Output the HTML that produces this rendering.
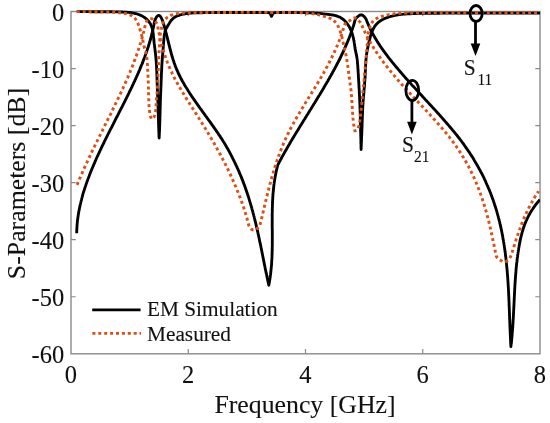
<!DOCTYPE html>
<html><head><meta charset="utf-8"><title>S-Parameters</title>
<style>html,body{margin:0;padding:0;background:#fff;overflow:hidden;}svg{display:block;}text{font-family:"Liberation Serif","Times New Roman",serif;fill:#111;stroke:#111;stroke-width:0.1px;}</style></head><body>
<svg width="550" height="423" viewBox="0 0 550 423">
<rect width="550" height="423" fill="#fff"/>
<defs><clipPath id="c"><rect x="71.0" y="0" width="469.0" height="355.8"/></clipPath></defs>
<path d="M188.25 353.80V349.10 M188.25 11.50V16.20 M305.50 353.80V349.10 M305.50 11.50V16.20 M422.75 353.80V349.10 M422.75 11.50V16.20 M71.00 68.55H75.70 M540.00 68.55H535.30 M71.00 125.60H75.70 M540.00 125.60H535.30 M71.00 182.65H75.70 M540.00 182.65H535.30 M71.00 239.70H75.70 M540.00 239.70H535.30 M71.00 296.75H75.70 M540.00 296.75H535.30" stroke="#8a8a8a" stroke-width="1.2" fill="none"/>
<rect x="71.00" y="11.50" width="469.00" height="342.30" stroke="#8a8a8a" stroke-width="1.4" fill="none"/>
<g clip-path="url(#c)" fill="none" stroke-linejoin="round">
<path d="M76.7 233.3L76.7 232.3L76.7 231.3L76.8 230.3L76.8 229.3L76.9 228.3L76.9 227.3L77.0 226.3L77.1 225.3L77.1 224.3L77.2 223.3L77.3 222.3L77.4 221.3L77.5 220.3L77.7 219.3L77.8 218.3L77.9 217.3L78.1 216.3L78.2 215.3L78.4 214.3L78.5 213.3L78.7 212.3L78.9 211.3L79.1 210.3L79.3 209.3L79.5 208.3L79.7 207.3L79.9 206.3L80.1 205.3L80.3 204.3L80.6 203.3L80.8 202.3L81.1 201.3L81.3 200.3L81.6 199.3L81.8 198.3L82.1 197.3L82.4 196.2L82.7 195.2L82.9 194.2L83.2 193.2L83.5 192.2L83.8 191.2L84.2 190.2L84.5 189.2L84.8 188.2L85.1 187.2L85.5 186.2L85.8 185.2L86.1 184.2L86.5 183.2L86.8 182.2L87.2 181.2L87.6 180.2L87.9 179.2L88.3 178.2L88.7 177.2L89.1 176.2L89.4 175.2L89.8 174.2L90.2 173.2L90.6 172.2L91.0 171.2L91.4 170.2L91.8 169.2L92.3 168.2L92.7 167.2L93.1 166.2L93.5 165.2L94.0 164.2L94.4 163.2L94.8 162.2L95.3 161.2L95.7 160.2L96.1 159.2L96.6 158.2L97.0 157.2L97.5 156.2L98.0 155.2L98.4 154.2L98.9 153.2L99.4 152.2L99.8 151.2L100.3 150.2L100.8 149.2L101.2 148.2L101.7 147.2L102.2 146.2L102.7 145.2L103.2 144.2L103.7 143.2L104.1 142.2L104.6 141.2L105.1 140.2L105.6 139.2L106.1 138.2L106.6 137.2L107.1 136.2L107.6 135.2L108.1 134.2L108.6 133.2L109.1 132.2L109.6 131.2L110.1 130.2L110.6 129.2L111.1 128.2L111.7 127.2L112.2 126.1L112.7 125.1L113.2 124.1L113.7 123.1L114.2 122.1L114.7 121.1L115.2 120.1L115.7 119.1L116.2 118.1L116.8 117.1L117.3 116.1L117.8 115.1L118.3 114.1L118.8 113.1L119.3 112.1L119.8 111.1L120.3 110.1L120.8 109.1L121.4 108.1L121.9 107.1L122.4 106.1L122.9 105.1L123.4 104.1L123.9 103.1L124.4 102.1L124.9 101.1L125.4 100.1L125.9 99.1L126.4 98.1L126.9 97.1L127.4 96.1L127.9 95.1L128.4 94.1L128.9 93.1L129.3 92.1L129.8 91.1L130.3 90.1L130.8 89.1L131.3 88.1L131.8 87.1L132.2 86.1L132.7 85.1L133.2 84.1L133.6 83.1L134.1 82.1L134.6 81.1L135.0 80.1L135.5 79.1L135.9 78.1L136.4 77.1L136.8 76.1L137.3 75.1L137.7 74.1L138.2 73.1L138.6 72.1L139.0 71.1L139.5 70.1L139.9 69.1L140.3 68.1L140.7 67.1L141.1 66.1L141.5 65.1L142.0 64.1L142.4 63.1L142.8 62.1L143.1 61.1L143.5 60.1L143.9 59.1L144.3 58.1L144.7 57.0L145.0 56.0L145.4 55.0L145.8 54.0L146.1 53.0L146.5 52.0L146.8 51.0L147.2 50.0L147.5 49.0L147.8 48.0L148.2 47.0L148.5 46.0L148.8 45.0L149.1 44.0L149.4 43.0L149.7 42.0L150.0 41.0L150.3 40.0L150.6 39.0L150.8 38.0L151.1 37.0L151.4 36.0L151.6 35.0L151.9 34.0L152.1 33.0L152.4 32.0L152.6 31.0L152.8 30.0L153.0 29.0L153.3 28.0L153.5 27.0L153.7 26.0L153.9 25.0L154.0 24.0L154.2 23.0L154.4 22.1L154.6 21.0L154.9 20.2L155.3 19.2L155.9 18.1L156.4 17.1L156.9 16.5L157.9 15.7L158.7 15.5L159.5 15.7L160.5 16.5L160.9 17.2L161.4 18.1L161.9 19.2L162.4 20.2L162.7 21.0L163.0 22.1L163.3 23.0L163.6 24.0L163.9 25.0L164.2 26.0L164.5 27.0L164.8 28.0L165.0 29.0L165.3 30.0L165.6 31.0L165.8 32.0L166.1 33.0L166.3 34.0L166.6 35.0L166.8 36.0L167.1 37.0L167.3 38.0L167.6 39.0L167.8 40.0L168.1 41.0L168.3 42.0L168.6 43.0L168.8 44.0L169.1 45.0L169.3 46.0L169.6 47.0L169.8 48.0L170.1 49.0L170.3 50.0L170.6 51.0L170.9 52.0L171.1 53.0L171.4 54.0L171.7 55.0L172.0 56.0L172.3 57.0L172.6 58.0L172.9 59.0L173.2 60.0L173.6 61.0L173.9 62.0L174.2 63.0L174.6 64.0L175.0 65.0L175.3 66.0L175.7 67.0L176.1 68.0L176.5 69.0L176.9 70.0L177.4 71.0L177.8 72.0L178.3 73.0L178.7 74.0L179.2 75.0L179.7 76.0L180.2 77.0L180.7 78.0L181.3 79.0L181.8 80.0L182.3 81.0L182.9 82.0L183.5 83.0L184.1 84.0L184.6 85.0L185.2 86.0L185.8 87.0L186.5 88.0L187.1 89.0L187.7 90.0L188.3 91.0L189.0 92.1L189.6 93.1L190.3 94.1L191.0 95.1L191.6 96.1L192.3 97.1L193.0 98.1L193.7 99.1L194.4 100.1L195.1 101.1L195.8 102.1L196.5 103.1L197.2 104.1L197.9 105.1L198.6 106.1L199.3 107.1L200.0 108.1L200.8 109.1L201.5 110.1L202.2 111.1L202.9 112.1L203.7 113.1L204.4 114.1L205.1 115.1L205.8 116.1L206.6 117.1L207.3 118.1L208.0 119.1L208.7 120.1L209.5 121.1L210.2 122.1L210.9 123.1L211.6 124.1L212.3 125.1L213.0 126.1L213.7 127.1L214.4 128.1L215.1 129.1L215.8 130.1L216.5 131.1L217.2 132.1L217.9 133.1L218.5 134.1L219.2 135.1L219.9 136.1L220.5 137.1L221.2 138.1L221.8 139.1L222.4 140.1L223.0 141.1L223.7 142.1L224.3 143.1L224.9 144.1L225.5 145.1L226.1 146.1L226.6 147.1L227.2 148.1L227.8 149.1L228.4 150.1L228.9 151.1L229.5 152.1L230.0 153.1L230.5 154.1L231.1 155.1L231.6 156.1L232.1 157.1L232.6 158.1L233.1 159.1L233.6 160.1L234.1 161.1L234.6 162.1L235.1 163.1L235.6 164.1L236.0 165.1L236.5 166.1L237.0 167.1L237.4 168.1L237.9 169.1L238.3 170.1L238.8 171.1L239.2 172.1L239.6 173.1L240.0 174.1L240.5 175.1L240.9 176.1L241.3 177.1L241.7 178.1L242.1 179.1L242.5 180.1L242.9 181.1L243.2 182.1L243.6 183.1L244.0 184.1L244.4 185.1L244.7 186.1L245.1 187.1L245.4 188.1L245.8 189.1L246.1 190.1L246.5 191.1L246.8 192.1L247.2 193.1L247.5 194.1L247.8 195.1L248.2 196.1L248.5 197.1L248.8 198.1L249.1 199.1L249.4 200.1L249.7 201.1L250.0 202.1L250.3 203.1L250.6 204.1L250.9 205.1L251.2 206.1L251.5 207.1L251.8 208.1L252.0 209.1L252.3 210.1L252.6 211.1L252.9 212.1L253.1 213.1L253.4 214.1L253.7 215.1L253.9 216.1L254.2 217.1L254.4 218.1L254.7 219.2L254.9 220.2L255.2 221.2L255.4 222.2L255.7 223.2L255.9 224.2L256.2 225.2L256.4 226.2L256.6 227.2L256.9 228.2L257.1 229.2L257.3 230.2L257.5 231.2L257.8 232.2L258.0 233.2L258.2 234.2L258.4 235.2L258.7 236.2L258.9 237.2L259.1 238.2L259.3 239.2L259.5 240.2L259.7 241.2L259.9 242.2L260.1 243.2L260.4 244.2L260.6 245.2L260.8 246.2L261.0 247.2L261.2 248.2L261.4 249.2L261.6 250.2L261.8 251.2L262.0 252.2L262.2 253.2L262.4 254.2L262.6 255.2L262.8 256.2L263.0 257.2L263.2 258.2L263.4 259.2L263.6 260.2L263.8 261.2L264.0 262.2L264.2 263.2L264.4 264.2L264.6 265.2L264.8 266.2L265.0 267.2L265.2 268.2L265.4 269.2L265.6 270.2L265.8 271.2L266.0 272.2L266.2 273.2L266.5 274.2L266.7 275.2L266.9 276.2L267.1 277.2L267.3 278.2L267.5 279.2L267.7 280.2L267.9 281.2L268.1 282.2L268.4 283.2L268.6 284.2L268.8 285.2L269.0 284.2L269.2 283.2L269.4 282.2L269.5 281.2L269.7 280.2L269.9 279.2L270.0 278.2L270.2 277.2L270.3 276.2L270.4 275.2L270.6 274.2L270.7 273.2L270.8 272.2L270.9 271.2L271.0 270.2L271.1 269.2L271.2 268.2L271.3 267.2L271.4 266.2L271.5 265.2L271.6 264.2L271.6 263.2L271.7 262.2L271.7 261.2L271.8 260.2L271.9 259.2L271.9 258.2L272.0 257.2L272.0 256.2L272.0 255.1L272.1 254.1L272.1 253.1L272.1 252.1L272.2 251.1L272.2 250.1L272.2 249.1L272.2 248.1L272.2 247.1L272.3 246.1L272.3 245.1L272.3 244.1L272.3 243.1L272.3 242.1L272.3 241.1L272.3 240.1L272.3 239.1L272.3 238.1L272.3 237.1L272.3 236.1L272.3 235.1L272.3 234.1L272.3 233.1L272.3 232.1L272.3 231.1L272.3 230.1L272.2 229.1L272.2 228.1L272.2 227.1L272.2 226.1L272.2 225.1L272.2 224.1L272.2 223.1L272.2 222.1L272.2 221.1L272.2 220.1L272.2 219.1L272.2 218.1L272.2 217.1L272.2 216.1L272.2 215.1L272.2 214.1L272.2 213.1L272.3 212.1L272.3 211.1L272.3 210.1L272.3 209.1L272.3 208.1L272.4 207.1L272.4 206.1L272.4 205.1L272.5 204.1L272.5 203.1L272.5 202.1L272.6 201.1L272.6 200.1L272.7 199.1L272.7 198.1L272.8 197.1L272.9 196.0L272.9 195.0L273.0 194.0L273.1 193.0L273.2 192.0L273.3 191.0L273.4 190.0L273.5 189.0L273.6 188.0L273.7 187.0L273.8 186.0L273.9 185.0L274.1 184.0L274.2 183.0L274.3 182.0L274.5 181.0L274.6 180.0L274.8 179.0L275.0 178.0L275.1 177.0L275.3 176.0L275.5 175.0L275.7 174.0L275.9 173.0L276.1 172.0L276.3 171.0L276.6 170.0L276.8 169.0L277.0 168.0L277.3 167.0L277.5 166.0L277.8 165.1L278.3 164.0L278.8 163.0L279.3 162.0L279.9 161.0L280.4 160.0L281.0 159.0L281.5 158.0L282.0 157.0L282.6 156.0L283.2 155.0L283.7 154.0L284.3 153.0L284.8 152.0L285.4 151.0L286.0 150.0L286.6 149.0L287.1 148.0L287.7 147.0L288.3 146.0L288.9 145.0L289.5 144.0L290.0 143.0L290.6 142.0L291.2 141.0L291.8 140.0L292.4 139.0L293.0 138.0L293.6 137.0L294.2 136.0L294.8 135.0L295.4 134.0L296.0 133.0L296.6 132.0L297.3 131.0L297.9 130.0L298.5 129.0L299.1 128.0L299.7 127.0L300.3 126.0L300.9 125.0L301.6 124.0L302.2 123.0L302.8 122.0L303.4 121.0L304.0 120.0L304.7 119.0L305.3 118.0L305.9 117.0L306.5 116.0L307.1 115.0L307.8 114.0L308.4 113.0L309.0 112.0L309.6 111.0L310.2 110.0L310.9 109.0L311.5 108.0L312.1 107.0L312.7 106.0L313.3 105.0L313.9 104.0L314.6 103.0L315.2 102.0L315.8 101.0L316.4 100.0L317.0 99.0L317.6 98.0L318.2 97.0L318.8 96.0L319.5 95.0L320.1 94.0L320.7 93.0L321.3 92.0L321.9 91.0L322.5 90.0L323.1 89.0L323.7 88.0L324.2 87.0L324.8 86.0L325.4 85.0L326.0 84.0L326.6 83.0L327.2 82.0L327.8 81.0L328.3 80.0L328.9 79.0L329.5 78.0L330.0 77.0L330.6 76.0L331.2 75.0L331.7 74.0L332.3 73.0L332.8 72.0L333.4 71.0L333.9 70.0L334.5 69.0L335.0 68.0L335.5 67.0L336.1 66.0L336.6 65.0L337.1 64.0L337.6 63.0L338.2 62.0L338.7 61.0L339.2 60.0L339.7 59.0L340.2 58.0L340.7 57.0L341.2 56.0L341.6 55.0L342.1 54.0L342.6 53.0L343.1 52.0L343.5 51.0L344.0 50.0L344.4 49.0L344.9 48.0L345.3 47.0L345.8 46.0L346.2 45.0L346.6 44.0L347.1 43.0L347.5 42.0L347.9 41.0L348.3 40.0L348.7 39.0L349.1 38.0L349.5 37.0L349.9 36.0L350.3 35.0L350.6 34.0L351.0 33.0L351.4 32.0L351.7 31.0L352.0 30.0L352.4 29.0L352.7 28.0L353.0 27.0L353.4 26.0L353.7 25.0L354.0 24.0L354.3 23.0L354.6 22.0L354.8 21.0L355.1 20.0L355.5 19.1L356.0 18.3L356.8 17.5L357.8 16.6L358.7 15.9L359.4 15.4L360.6 14.9L361.6 14.9L362.8 15.4L363.5 15.9L364.3 16.8L365.2 17.8L365.8 18.7L366.3 19.6L366.6 20.5L367.0 21.5L367.4 22.5L367.8 23.5L368.2 24.5L368.7 25.5L369.1 26.5L369.6 27.5L370.0 28.5L370.5 29.5L371.0 30.5L371.5 31.6L372.1 32.6L372.6 33.6L373.2 34.6L373.7 35.6L374.3 36.6L374.9 37.6L375.5 38.6L376.1 39.6L376.7 40.6L377.3 41.6L378.0 42.6L378.6 43.6L379.3 44.6L379.9 45.6L380.6 46.6L381.3 47.6L382.0 48.6L382.7 49.6L383.4 50.6L384.2 51.7L384.9 52.7L385.6 53.6L386.2 54.4L386.8 55.2L387.4 56.0L388.0 56.8L388.6 57.6L389.2 58.4L389.9 59.2L390.5 60.0L391.1 60.8L391.8 61.6L392.4 62.4L393.1 63.2L393.7 64.0L394.4 64.8L395.1 65.6L395.7 66.4L396.4 67.2L397.1 68.0L397.8 68.8L398.4 69.6L399.1 70.4L399.8 71.2L400.5 72.0L401.2 72.8L401.9 73.6L402.6 74.5L403.3 75.3L404.0 76.1L404.7 76.9L405.4 77.7L406.1 78.5L406.8 79.3L407.6 80.1L408.3 80.9L409.0 81.7L409.7 82.5L410.5 83.3L411.2 84.1L411.9 84.9L412.6 85.7L413.4 86.5L414.1 87.3L414.9 88.1L415.6 88.9L416.3 89.7L417.1 90.5L417.8 91.3L418.5 92.1L419.3 92.9L420.0 93.7L420.8 94.5L421.5 95.3L422.3 96.2L423.0 97.0L423.7 97.8L424.5 98.6L425.2 99.4L426.0 100.2L426.7 101.0L427.4 101.8L428.2 102.6L428.9 103.4L429.7 104.2L430.4 105.0L431.2 105.8L431.9 106.6L432.6 107.4L433.4 108.2L434.1 109.0L434.8 109.8L435.6 110.6L436.3 111.4L437.0 112.2L437.7 113.0L438.5 113.8L439.2 114.6L439.9 115.4L440.6 116.2L441.4 117.1L442.1 117.9L442.8 118.7L443.5 119.5L444.2 120.3L444.9 121.1L445.6 121.9L446.3 122.7L447.0 123.5L447.7 124.3L448.4 125.1L449.1 125.9L449.7 126.7L450.4 127.5L451.1 128.3L451.8 129.1L452.4 129.9L453.1 130.7L453.8 131.5L454.4 132.3L455.1 133.1L455.7 133.9L456.4 134.7L457.0 135.5L457.7 136.3L458.3 137.1L458.9 137.9L459.5 138.8L460.2 139.6L460.8 140.4L461.4 141.2L462.0 142.0L462.5 142.7L463.1 143.5L463.9 144.5L464.6 145.6L465.3 146.6L466.0 147.6L466.7 148.6L467.4 149.6L468.1 150.6L468.8 151.6L469.5 152.6L470.1 153.6L470.8 154.6L471.4 155.6L472.1 156.6L472.7 157.6L473.3 158.6L473.9 159.6L474.5 160.7L475.1 161.7L475.7 162.7L476.3 163.7L476.9 164.7L477.5 165.7L478.0 166.7L478.6 167.7L479.1 168.7L479.7 169.7L480.2 170.7L480.7 171.7L481.3 172.7L481.8 173.7L482.3 174.7L482.8 175.7L483.3 176.7L483.8 177.7L484.3 178.7L484.7 179.7L485.2 180.7L485.7 181.7L486.1 182.8L486.6 183.8L487.0 184.8L487.5 185.8L487.9 186.8L488.3 187.8L488.8 188.8L489.2 189.8L489.6 190.8L490.0 191.8L490.4 192.8L490.8 193.8L491.2 194.8L491.5 195.8L491.9 196.8L492.3 197.8L492.6 198.8L493.0 199.8L493.4 200.8L493.7 201.8L494.0 202.8L494.4 203.8L494.7 204.9L495.0 205.9L495.4 206.9L495.7 207.9L496.0 208.9L496.3 209.9L496.6 210.9L496.9 211.9L497.2 212.9L497.4 213.9L497.7 214.9L498.0 215.9L498.3 216.9L498.5 217.9L498.8 218.9L499.1 219.9L499.3 220.9L499.6 221.9L499.8 222.9L500.0 223.9L500.3 224.9L500.5 225.9L500.7 227.0L501.0 228.0L501.2 229.0L501.4 230.0L501.6 231.0L501.8 232.0L502.0 233.0L502.2 234.0L502.4 235.0L502.6 236.0L502.8 237.0L502.9 238.0L503.1 239.0L503.3 240.0L503.5 241.0L503.6 242.0L503.8 243.0L504.0 244.0L504.1 245.0L504.3 246.0L504.4 247.0L504.6 248.0L504.7 249.1L504.9 250.1L505.0 251.1L505.1 252.1L505.3 253.1L505.4 254.1L505.5 255.1L505.6 256.1L505.8 257.1L505.9 258.1L506.0 259.1L506.1 260.1L506.2 261.1L506.3 262.1L506.4 263.1L506.5 264.1L506.6 265.1L506.7 266.1L506.8 267.1L506.9 268.1L507.0 269.1L507.1 270.2L507.2 271.2L507.3 272.2L507.3 273.2L507.4 274.2L507.5 275.2L507.6 276.2L507.7 277.2L507.7 278.2L507.8 279.2L507.9 280.2L507.9 281.2L508.0 282.2L508.1 283.2L508.1 284.2L508.2 285.2L508.2 286.2L508.3 287.2L508.4 288.2L508.4 289.2L508.5 290.2L508.5 291.2L508.6 292.3L508.6 293.3L508.7 294.3L508.7 295.3L508.8 296.3L508.8 297.3L508.9 298.3L508.9 299.3L508.9 300.3L509.0 301.3L509.0 302.3L509.1 303.3L509.1 304.3L509.1 305.3L509.2 306.3L509.2 307.3L509.3 308.3L509.3 309.3L509.3 310.3L509.4 311.3L509.4 312.3L509.5 313.3L509.5 314.4L509.5 315.4L509.6 316.4L509.6 317.4L509.6 318.4L509.7 319.4L509.7 320.4L509.8 321.4L509.8 322.4L509.8 323.4L509.9 324.4L509.9 325.4L509.9 326.4L510.0 327.4L510.0 328.4L510.1 329.4L510.1 330.4L510.2 331.4L510.2 332.4L510.2 333.4L510.3 334.4L510.3 335.4L510.4 336.5L510.4 337.5L510.5 338.5L510.5 339.5L510.6 340.5L510.6 341.5L510.7 342.5L510.7 343.5L510.8 344.5L510.8 345.5L510.9 346.5L511.0 345.5L511.1 344.5L511.3 343.5L511.4 342.5L511.5 341.5L511.6 340.5L511.7 339.5L511.8 338.5L511.9 337.5L512.0 336.4L512.1 335.4L512.1 334.4L512.2 333.4L512.3 332.4L512.4 331.4L512.5 330.4L512.5 329.4L512.6 328.4L512.7 327.4L512.8 326.4L512.8 325.4L512.9 324.4L513.0 323.4L513.0 322.4L513.1 321.4L513.1 320.4L513.2 319.4L513.3 318.3L513.3 317.3L513.4 316.3L513.4 315.3L513.5 314.3L513.5 313.3L513.6 312.3L513.6 311.3L513.7 310.3L513.7 309.3L513.8 308.3L513.8 307.3L513.9 306.3L513.9 305.3L514.0 304.3L514.0 303.3L514.1 302.3L514.1 301.3L514.2 300.2L514.2 299.2L514.3 298.2L514.3 297.2L514.4 296.2L514.4 295.2L514.5 294.2L514.5 293.2L514.6 292.2L514.6 291.2L514.7 290.2L514.7 289.2L514.8 288.2L514.8 287.2L514.9 286.2L514.9 285.2L515.0 284.2L515.1 283.2L515.1 282.1L515.2 281.1L515.3 280.1L515.3 279.1L515.4 278.1L515.5 277.1L515.6 276.1L515.6 275.1L515.7 274.1L515.8 273.1L515.9 272.1L516.0 271.1L516.0 270.1L516.1 269.1L516.2 268.1L516.3 267.1L516.4 266.1L516.5 265.1L516.6 264.1L516.7 263.0L516.9 262.0L517.0 261.0L517.1 260.0L517.2 259.0L517.3 258.0L517.5 257.0L517.6 256.0L517.7 255.0L517.9 254.0L518.0 253.0L518.2 252.0L518.3 251.0L518.5 250.0L518.6 249.0L518.8 248.0L519.0 247.0L519.1 246.0L519.3 244.9L519.5 243.9L519.7 242.9L519.9 241.9L520.1 240.9L520.3 239.9L520.5 238.9L520.7 237.9L521.0 236.9L521.2 235.9L521.5 234.9L521.7 233.9L522.0 232.9L522.3 231.9L522.6 230.9L522.9 229.9L523.2 228.9L523.5 227.9L523.9 226.9L524.2 225.8L524.6 224.8L525.0 223.8L525.4 222.8L525.8 221.8L526.2 220.8L526.7 219.8L527.1 218.8L527.6 217.8L528.1 216.8L528.6 215.8L529.2 214.8L529.7 213.8L530.3 212.8L530.9 211.8L531.5 210.8L532.2 209.8L532.9 208.8L533.5 207.8L534.3 206.7L535.0 205.7L535.6 204.9L536.2 204.1L536.8 203.3L537.5 202.5L538.2 201.7L538.8 200.9L539.6 200.1L539.9 199.7" stroke="#000" stroke-width="2.85"/>
<path d="M76.8 11.6L77.8 11.6L78.8 11.6L79.9 11.6L80.9 11.6L81.9 11.6L83.0 11.6L84.0 11.6L85.1 11.6L86.1 11.6L87.2 11.6L88.2 11.6L89.3 11.7L90.3 11.7L91.3 11.7L92.3 11.7L93.4 11.7L94.4 11.7L95.3 11.7L96.3 11.7L97.2 11.7L98.1 11.7L99.0 11.7L99.9 11.7L101.0 11.7L102.1 11.7L103.2 11.7L104.3 11.7L105.3 11.7L106.3 11.7L107.2 11.7L108.2 11.7L109.2 11.7L110.1 11.7L111.1 11.7L112.0 11.7L113.0 11.8L114.0 11.8L114.9 11.8L116.0 11.8L117.0 11.9L118.1 11.9L119.2 11.9L120.3 11.9L121.4 12.0L122.5 12.0L123.6 12.1L124.6 12.1L125.7 12.2L126.7 12.2L127.6 12.3L128.4 12.4L129.2 12.4L130.0 12.5L131.2 12.7L132.4 12.9L133.4 13.1L134.4 13.3L135.2 13.5L136.1 13.7L137.2 14.0L138.2 14.3L139.2 14.7L140.2 15.1L141.1 15.5L142.1 16.0L143.1 16.6L144.1 17.2L144.9 17.8L145.7 18.4L146.5 19.1L147.2 19.7L148.0 20.6L148.8 21.5L149.4 22.4L150.0 23.3L150.5 24.1L150.9 25.0L151.4 26.1L151.8 27.2L152.1 28.2L152.4 29.2L152.7 30.3L152.9 31.5L153.0 32.5L153.1 33.4L153.3 34.3L153.4 35.2L153.4 36.3L153.5 37.3L153.7 38.4L153.8 39.5L153.9 40.5L154.0 41.5L154.1 42.5L154.2 43.5L154.4 44.5L154.5 45.5L154.6 46.6L154.7 47.6L154.9 48.7L155.0 49.7L155.1 50.7L155.2 51.8L155.4 52.8L155.5 53.8L155.6 54.9L155.7 55.9L155.8 57.0L155.9 58.0L156.0 59.1L156.1 60.1L156.2 61.2L156.3 62.1L156.3 63.1L156.4 64.1L156.5 65.1L156.5 66.2L156.6 67.3L156.6 68.4L156.7 69.5L156.7 70.5L156.8 71.4L156.8 72.3L156.8 73.3L156.9 74.3L156.9 75.3L156.9 76.3L157.0 77.3L157.0 78.3L157.0 79.4L157.1 80.4L157.1 81.5L157.1 82.5L157.2 83.5L157.2 84.5L157.2 85.5L157.3 86.5L157.3 87.5L157.3 88.5L157.4 89.5L157.4 90.5L157.5 91.5L157.5 92.5L157.5 93.5L157.6 94.5L157.6 95.5L157.7 96.5L157.7 97.5L157.7 98.5L157.8 99.5L157.8 100.5L157.9 101.5L157.9 102.5L157.9 103.5L158.0 104.5L158.0 105.5L158.0 106.6L158.1 107.6L158.1 108.6L158.1 109.6L158.2 110.6L158.2 111.6L158.2 112.6L158.3 113.5L158.3 114.5L158.3 115.5L158.3 116.5L158.4 117.6L158.4 118.6L158.4 119.7L158.5 120.7L158.5 121.7L158.5 122.7L158.6 123.7L158.6 124.7L158.6 125.6L158.7 126.6L158.7 127.5L158.7 128.5L158.8 129.6L158.8 130.6L158.8 131.6L158.9 132.6L158.9 133.6L159.0 134.6L159.0 135.5L159.0 136.5L159.1 137.5L159.1 138.0L159.2 137.0L159.2 136.0L159.3 135.0L159.3 134.1L159.4 133.1L159.4 132.1L159.5 131.1L159.5 130.1L159.6 129.0L159.6 128.0L159.6 127.0L159.7 126.1L159.7 125.1L159.7 124.2L159.8 123.2L159.8 122.2L159.8 121.2L159.9 120.2L159.9 119.1L159.9 118.1L159.9 117.1L160.0 116.0L160.0 115.0L160.0 114.0L160.1 113.0L160.1 112.1L160.1 111.1L160.1 110.1L160.2 109.1L160.2 108.1L160.2 107.1L160.2 106.1L160.3 105.0L160.3 104.0L160.3 103.0L160.3 102.0L160.4 101.0L160.4 100.0L160.4 99.0L160.5 98.0L160.5 97.0L160.5 96.0L160.6 95.0L160.6 94.0L160.7 93.0L160.7 92.0L160.8 91.0L160.8 90.0L160.8 89.0L160.9 88.0L160.9 87.0L161.0 86.0L161.0 85.0L161.0 84.0L161.1 83.0L161.1 82.0L161.2 80.9L161.2 79.9L161.2 78.8L161.3 77.8L161.3 76.8L161.4 75.7L161.4 74.7L161.4 73.7L161.5 72.8L161.5 71.9L161.6 71.0L161.6 70.1L161.7 69.0L161.7 67.9L161.8 66.8L161.8 65.8L161.9 64.8L161.9 63.9L162.0 62.9L162.1 62.0L162.1 61.0L162.2 60.0L162.3 59.0L162.4 58.0L162.4 57.0L162.5 56.0L162.6 55.0L162.7 54.0L162.8 53.0L162.8 52.0L162.9 51.0L163.0 50.0L163.1 49.0L163.2 48.0L163.2 46.9L163.3 45.8L163.4 44.8L163.5 43.7L163.6 42.7L163.7 41.8L163.7 40.9L163.8 40.0L163.9 38.9L164.0 37.9L164.1 36.9L164.2 36.0L164.3 35.1L164.4 34.1L164.7 33.0L164.9 31.9L165.2 30.9L165.6 29.8L166.0 28.9L166.5 27.9L167.1 27.0L167.6 26.0L168.2 25.1L168.7 24.2L169.3 23.3L169.8 22.4L170.3 21.6L170.9 20.8L171.6 20.0L172.4 19.1L173.2 18.4L174.1 17.7L175.1 17.0L176.0 16.5L177.1 16.0L178.0 15.6L179.0 15.3L180.1 14.9L181.1 14.7L182.2 14.4L183.1 14.2L184.1 14.0L185.1 13.9L186.1 13.7L187.2 13.5L188.3 13.4L189.5 13.2L190.5 13.1L191.3 13.0L192.0 13.0L192.9 12.9L193.7 12.9L194.7 12.8L195.8 12.8L197.0 12.8L198.3 12.7L199.6 12.7L200.6 12.7L201.3 12.7L202.0 12.7L202.7 12.7L203.5 12.6L204.4 12.6L205.3 12.6L206.2 12.6L207.2 12.6L208.1 12.6L209.1 12.6L210.1 12.6L211.2 12.6L212.2 12.6L213.3 12.5L214.3 12.5L215.4 12.5L216.5 12.5L217.6 12.5L218.6 12.5L219.7 12.5L220.8 12.5L221.9 12.5L223.0 12.5L224.1 12.5L225.2 12.5L226.3 12.5L227.4 12.5L228.5 12.5L229.5 12.5L230.5 12.5L231.4 12.5L232.4 12.5L233.5 12.5L234.5 12.5L235.6 12.5L236.7 12.5L237.9 12.5L239.0 12.5L240.2 12.5L241.3 12.5L242.5 12.5L243.7 12.5L244.9 12.5L246.1 12.5L247.2 12.5L248.4 12.5L249.6 12.5L250.7 12.5L251.8 12.5L253.0 12.5L254.1 12.5L255.1 12.5L256.2 12.5L257.2 12.5L258.2 12.5L259.2 12.5L260.2 12.5L261.1 12.5L261.9 12.5L262.7 12.5L263.3 12.5L263.9 12.6L264.5 12.6L265.0 12.6L265.5 12.6L266.5 12.6L268.0 12.7L268.8 12.8L269.8 12.9L270.3 13.9L270.8 14.9L271.3 15.9L271.5 16.4L272.0 15.4L272.5 14.4L273.0 13.4L273.2 12.9L274.2 12.8L275.1 12.7L276.4 12.6L277.5 12.6L278.1 12.6L278.7 12.6L279.4 12.6L280.2 12.5L281.1 12.5L282.1 12.5L283.1 12.5L284.2 12.5L285.4 12.5L286.5 12.5L287.7 12.5L288.8 12.5L290.0 12.5L291.2 12.5L292.4 12.5L293.5 12.5L294.6 12.5L295.7 12.6L296.8 12.6L297.7 12.6L298.6 12.6L299.5 12.6L300.5 12.6L301.7 12.6L302.8 12.6L303.9 12.6L305.0 12.7L306.0 12.7L307.0 12.7L308.0 12.7L308.9 12.8L309.8 12.8L310.7 12.8L311.7 12.9L312.6 12.9L313.7 13.0L314.9 13.1L316.0 13.2L317.1 13.2L318.1 13.3L319.1 13.4L320.1 13.5L321.1 13.6L322.1 13.7L323.1 13.8L324.3 14.0L325.4 14.1L326.5 14.2L327.5 14.3L328.5 14.4L329.5 14.6L330.5 14.7L331.6 14.9L332.6 15.0L333.6 15.2L334.5 15.4L335.5 15.6L336.5 15.9L337.6 16.3L338.6 16.7L339.6 17.1L340.6 17.6L341.5 18.2L342.3 18.8L343.2 19.4L344.0 20.1L344.7 20.8L345.4 21.5L346.1 22.3L346.7 23.0L347.3 23.8L347.9 24.7L348.5 25.6L349.1 26.5L349.6 27.4L350.1 28.4L350.5 29.3L350.9 30.3L351.3 31.2L351.7 32.1L352.0 33.0L352.3 34.0L352.6 35.0L352.8 35.9L353.1 36.9L353.3 37.8L353.5 38.9L353.8 40.0L353.9 40.9L354.1 41.8L354.2 42.7L354.4 43.7L354.5 44.8L354.7 45.9L354.9 47.0L355.0 48.1L355.2 49.1L355.4 50.1L355.6 51.1L355.8 52.0L356.0 52.9L356.1 53.8L356.3 54.7L356.6 55.8L356.8 56.9L357.0 58.1L357.1 58.9L357.2 59.6L357.3 60.4L357.4 61.3L357.4 62.2L357.5 63.1L357.6 64.1L357.7 65.1L357.8 66.2L357.8 67.3L357.9 68.4L358.0 69.5L358.1 70.6L358.1 71.7L358.2 72.8L358.3 73.9L358.3 75.0L358.4 76.2L358.4 77.3L358.5 78.4L358.6 79.4L358.6 80.5L358.7 81.4L358.8 82.4L358.8 83.4L358.9 84.4L358.9 85.4L359.0 86.4L359.0 87.4L359.1 88.4L359.2 89.4L359.2 90.5L359.3 91.5L359.3 92.5L359.4 93.5L359.4 94.6L359.5 95.6L359.5 96.6L359.6 97.6L359.6 98.7L359.7 99.7L359.7 100.7L359.8 101.7L359.8 102.8L359.9 103.8L359.9 104.8L359.9 105.8L360.0 106.8L360.0 107.8L360.0 108.9L360.1 109.9L360.1 110.9L360.1 112.0L360.2 113.0L360.2 114.0L360.2 115.1L360.3 116.1L360.3 117.1L360.3 118.2L360.3 119.2L360.4 120.2L360.4 121.2L360.4 122.2L360.4 123.2L360.5 124.2L360.5 125.2L360.5 126.2L360.5 127.2L360.6 128.1L360.6 129.1L360.6 130.1L360.6 131.2L360.7 132.3L360.7 133.3L360.7 134.4L360.7 135.4L360.8 136.4L360.8 137.4L360.8 138.4L360.9 139.4L360.9 140.4L360.9 141.4L360.9 142.4L360.9 143.4L361.0 144.4L361.0 145.4L361.0 146.5L361.0 147.5L361.1 148.5L361.1 149.5L361.1 148.5L361.2 147.5L361.2 146.5L361.3 145.4L361.3 144.4L361.3 143.4L361.4 142.4L361.4 141.4L361.5 140.4L361.5 139.4L361.5 138.4L361.6 137.4L361.6 136.4L361.7 135.4L361.7 134.4L361.8 133.3L361.8 132.3L361.8 131.2L361.9 130.1L361.9 129.1L362.0 128.1L362.0 127.2L362.0 126.2L362.1 125.2L362.1 124.2L362.1 123.2L362.2 122.2L362.2 121.2L362.2 120.2L362.3 119.2L362.3 118.2L362.3 117.1L362.4 116.1L362.4 115.1L362.5 114.0L362.5 113.0L362.5 112.0L362.6 110.9L362.6 109.9L362.7 108.9L362.7 107.8L362.8 106.8L362.8 105.8L362.9 104.8L363.0 103.8L363.0 102.8L363.1 101.7L363.2 100.7L363.3 99.7L363.3 98.7L363.4 97.6L363.5 96.6L363.6 95.6L363.7 94.6L363.8 93.5L363.9 92.5L364.0 91.5L364.0 90.5L364.1 89.4L364.2 88.4L364.3 87.4L364.4 86.4L364.5 85.4L364.6 84.4L364.6 83.4L364.7 82.4L364.8 81.4L364.9 80.4L364.9 79.4L365.0 78.4L365.1 77.3L365.1 76.2L365.2 75.1L365.2 73.9L365.3 72.8L365.3 71.7L365.4 70.6L365.4 69.5L365.5 68.4L365.5 67.3L365.6 66.3L365.6 65.2L365.7 64.2L365.7 63.2L365.8 62.2L365.8 61.3L365.9 60.5L366.0 59.7L366.0 58.9L366.1 58.2L366.2 56.9L366.4 55.7L366.6 54.6L366.7 53.6L366.8 52.7L367.0 51.8L367.1 51.0L367.3 50.1L367.5 49.0L367.7 47.9L367.9 46.9L368.1 45.9L368.3 45.0L368.5 44.0L368.8 43.0L369.0 42.0L369.3 41.0L369.5 40.0L369.8 39.0L370.0 38.0L370.3 37.0L370.5 36.0L370.8 35.1L371.1 34.1L371.5 33.0L371.9 31.9L372.4 30.9L372.8 29.9L373.3 28.9L373.8 28.0L374.3 27.1L374.8 26.2L375.4 25.5L376.0 24.7L376.7 23.9L377.4 23.2L378.1 22.5L378.9 21.9L379.8 21.3L380.6 20.7L381.6 20.1L382.4 19.7L383.2 19.3L384.1 18.8L385.0 18.4L386.0 18.0L387.0 17.6L387.9 17.3L388.9 17.0L389.9 16.7L390.9 16.4L391.9 16.1L393.0 15.8L394.0 15.5L395.1 15.3L396.0 15.1L396.9 15.0L397.9 14.8L398.8 14.7L399.9 14.5L401.0 14.4L402.2 14.3L403.3 14.2L404.1 14.1L404.9 14.0L405.8 14.0L406.6 13.9L407.5 13.8L408.5 13.8L409.5 13.7L410.5 13.7L411.5 13.7L412.6 13.6L413.7 13.6L414.9 13.5L416.1 13.5L417.4 13.4L418.8 13.4L419.8 13.4L420.5 13.4L421.2 13.3L422.0 13.3L422.7 13.3L423.6 13.3L424.4 13.3L425.3 13.3L426.2 13.3L427.1 13.2L428.0 13.2L428.9 13.2L429.9 13.2L430.8 13.2L431.8 13.2L432.8 13.2L433.7 13.2L434.7 13.2L435.7 13.2L436.7 13.2L437.8 13.2L438.8 13.2L439.8 13.2L440.9 13.1L442.0 13.1L443.0 13.1L444.1 13.1L445.2 13.1L446.3 13.1L447.4 13.1L448.5 13.1L449.6 13.1L450.7 13.1L451.9 13.1L453.0 13.1L454.2 13.1L455.3 13.1L456.5 13.1L457.8 13.1L459.0 13.1L460.2 13.1L461.0 13.1L461.8 13.1L462.6 13.1L463.4 13.1L464.3 13.1L465.1 13.1L466.0 13.1L466.9 13.1L467.8 13.1L468.7 13.1L469.6 13.1L470.5 13.1L471.5 13.1L472.4 13.1L473.3 13.1L474.3 13.1L475.2 13.1L476.2 13.1L477.1 13.1L478.1 13.1L479.1 13.1L480.1 13.1L481.0 13.1L482.0 13.1L483.0 13.1L484.0 13.1L485.0 13.1L486.0 13.1L487.0 13.1L488.0 13.1L489.1 13.1L490.1 13.1L491.1 13.1L492.1 13.1L493.1 13.1L494.2 13.1L495.2 13.1L496.3 13.1L497.3 13.1L498.3 13.1L499.4 13.1L500.4 13.1L501.5 13.1L502.5 13.1L503.6 13.1L504.6 13.1L505.7 13.1L506.7 13.1L507.8 13.1L508.8 13.1L509.9 13.1L510.9 13.1L512.0 13.1L513.1 13.1L514.1 13.1L515.2 13.1L516.2 13.1L517.3 13.1L518.3 13.1L519.4 13.1L520.4 13.1L521.5 13.1L522.5 13.1L523.6 13.1L524.6 13.1L525.7 13.1L526.7 13.1L527.8 13.1L528.8 13.1L529.8 13.1L530.9 13.1L531.9 13.1L532.9 13.1L533.9 13.1L535.0 13.1L536.0 13.1L537.0 13.1L538.0 13.1L539.0 13.1L540.0 13.1" stroke="#000" stroke-width="2.85"/>
<path d="M77.1 184.9L77.5 183.9L77.9 182.9L78.3 181.9L78.8 180.9L79.2 179.8L79.6 178.8L80.0 177.8L80.5 176.8L80.9 175.8L81.3 174.8L81.8 173.8L82.2 172.8L82.7 171.7L83.1 170.7L83.6 169.7L84.0 168.7L84.5 167.7L84.9 166.7L85.4 165.7L85.9 164.7L86.3 163.6L86.8 162.6L87.3 161.6L87.7 160.6L88.2 159.6L88.7 158.6L89.2 157.6L89.6 156.6L90.1 155.6L90.6 154.5L91.1 153.5L91.6 152.5L92.0 151.5L92.5 150.5L93.0 149.5L93.5 148.5L94.0 147.5L94.5 146.4L95.0 145.4L95.5 144.4L96.0 143.4L96.5 142.4L97.0 141.4L97.5 140.4L98.0 139.4L98.5 138.3L99.0 137.3L99.5 136.3L100.0 135.3L100.5 134.3L101.0 133.3L101.5 132.3L102.0 131.3L102.5 130.3L103.0 129.2L103.5 128.2L104.0 127.2L104.5 126.2L105.0 125.2L105.5 124.2L106.0 123.2L106.5 122.2L107.0 121.1L107.5 120.1L108.0 119.1L108.5 118.1L109.1 117.1L109.6 116.1L110.1 115.1L110.6 114.1L111.1 113.0L111.6 112.0L112.1 111.0L112.6 110.0L113.0 109.0L113.5 108.0L114.0 107.0L114.5 106.0L115.0 104.9L115.5 103.9L116.0 102.9L116.5 101.9L117.0 100.9L117.5 99.9L117.9 98.9L118.4 97.9L118.9 96.9L119.4 95.8L119.9 94.8L120.3 93.8L120.8 92.8L121.3 91.8L121.8 90.8L122.2 89.8L122.7 88.8L123.2 87.7L123.6 86.7L124.1 85.7L124.5 84.7L125.0 83.7L125.4 82.7L125.9 81.7L126.3 80.7L126.8 79.6L127.2 78.6L127.7 77.6L128.1 76.6L128.5 75.6L128.9 74.6L129.4 73.6L129.8 72.6L130.2 71.6L130.6 70.5L131.1 69.5L131.5 68.5L131.9 67.5L132.3 66.5L132.7 65.5L133.1 64.5L133.5 63.5L133.9 62.4L134.2 61.4L134.6 60.4L135.0 59.4L135.4 58.4L135.8 57.4L136.1 56.4L136.5 55.4L136.8 54.3L137.2 53.3L137.5 52.3L137.9 51.3L138.2 50.3L138.6 49.3L138.9 48.3L139.2 47.3L139.6 46.2L139.9 45.2L140.2 44.2L140.5 43.2L140.8 42.2L141.1 41.2L141.4 40.2L141.7 39.2L142.0 38.2L142.3 37.1L142.5 36.1L142.8 35.1L143.1 34.1L143.3 33.1L143.6 32.1L143.8 31.1L144.1 30.1L144.3 29.0L144.6 28.0L144.8 27.0L145.0 26.1L145.3 25.1L145.5 24.2L145.9 23.1L146.4 21.9L146.9 20.9L147.5 20.1L148.2 19.4L149.1 18.9L150.1 18.6L151.0 18.6L151.9 18.8L152.8 19.2L153.7 19.8L154.4 20.4L155.2 21.2L155.9 22.1L156.5 23.0L157.0 23.8L157.3 24.6L157.5 25.5L157.7 26.5L157.9 27.5L158.1 28.5L158.3 29.5L158.5 30.5L158.7 31.5L158.9 32.5L159.1 33.5L159.3 34.5L159.5 35.6L159.7 36.6L160.0 37.6L160.2 38.6L160.4 39.6L160.7 40.6L160.9 41.6L161.2 42.6L161.4 43.6L161.7 44.6L162.0 45.6L162.2 46.6L162.5 47.6L162.8 48.6L163.1 49.6L163.4 50.6L163.7 51.6L164.0 52.6L164.3 53.6L164.7 54.6L165.0 55.6L165.3 56.7L165.7 57.7L166.0 58.7L166.4 59.7L166.8 60.7L167.1 61.7L167.5 62.7L167.9 63.7L168.3 64.7L168.7 65.7L169.2 66.7L169.6 67.7L170.0 68.7L170.5 69.7L170.9 70.7L171.4 71.7L171.9 72.7L172.3 73.7L172.8 74.7L173.3 75.7L173.8 76.8L174.3 77.8L174.9 78.8L175.4 79.8L175.9 80.8L176.5 81.8L177.0 82.8L177.6 83.8L178.2 84.8L178.7 85.8L179.3 86.8L179.9 87.8L180.5 88.8L181.1 89.8L181.7 90.8L182.3 91.8L182.9 92.8L183.5 93.8L184.1 94.8L184.7 95.9L185.4 96.9L186.0 97.9L186.6 98.9L187.3 99.9L187.9 100.9L188.5 101.9L189.2 102.9L189.8 103.9L190.4 104.9L191.1 105.9L191.7 106.9L192.4 107.9L193.0 108.9L193.7 109.9L194.3 110.9L194.9 111.9L195.6 112.9L196.2 113.9L196.9 114.9L197.5 116.0L198.1 117.0L198.8 118.0L199.4 119.0L200.0 120.0L200.7 121.0L201.3 122.0L201.9 123.0L202.5 124.0L203.2 125.0L203.8 126.0L204.4 127.0L205.0 128.0L205.6 129.0L206.2 130.0L206.8 131.0L207.4 132.0L208.0 133.0L208.6 134.0L209.2 135.0L209.8 136.1L210.4 137.1L211.0 138.1L211.6 139.1L212.2 140.1L212.8 141.1L213.3 142.1L213.9 143.1L214.5 144.1L215.0 145.1L215.6 146.1L216.2 147.1L216.7 148.1L217.3 149.1L217.8 150.1L218.4 151.1L218.9 152.1L219.5 153.1L220.0 154.1L220.6 155.1L221.1 156.2L221.6 157.2L222.2 158.2L222.7 159.2L223.2 160.2L223.7 161.2L224.2 162.2L224.8 163.2L225.3 164.2L225.8 165.2L226.3 166.2L226.8 167.2L227.3 168.2L227.8 169.2L228.3 170.2L228.7 171.2L229.2 172.2L229.7 173.2L230.2 174.2L230.6 175.2L231.1 176.3L231.6 177.3L232.0 178.3L232.5 179.3L232.9 180.3L233.4 181.3L233.8 182.3L234.3 183.3L234.7 184.3L235.1 185.3L235.6 186.3L236.0 187.3L236.4 188.3L236.8 189.3L237.2 190.3L237.6 191.3L238.0 192.3L238.4 193.3L238.8 194.3L239.2 195.3L239.6 196.4L240.0 197.4L240.4 198.4L240.7 199.4L241.1 200.4L241.5 201.4L241.8 202.4L242.2 203.4L242.5 204.4L242.9 205.4L243.2 206.4L243.6 207.4L243.9 208.4L244.2 209.4L244.6 210.4L244.9 211.4L245.2 212.4L245.5 213.4L245.8 214.4L246.1 215.4L246.4 216.5L246.7 217.5L247.0 218.5L247.2 219.5L247.5 220.5L247.8 221.5L248.1 222.5L248.3 223.5L248.6 224.5L248.8 225.5L249.2 226.4L249.6 227.2L250.2 228.1L251.0 228.9L251.9 229.4L252.9 229.9L253.9 230.0L254.9 229.9L256.0 229.4L256.7 228.9L257.6 228.2L258.4 227.4L259.1 226.6L259.6 225.9L260.0 224.9L260.2 224.0L260.5 223.0L260.7 222.0L261.0 221.0L261.2 220.0L261.5 219.0L261.7 218.0L262.0 217.0L262.2 216.0L262.4 215.0L262.7 214.0L262.9 213.0L263.1 212.0L263.4 211.0L263.6 210.0L263.9 209.0L264.1 208.0L264.3 207.0L264.6 206.0L264.8 205.0L265.0 204.0L265.3 203.0L265.5 202.0L265.8 201.0L266.0 200.0L266.2 199.0L266.5 198.0L266.7 197.0L267.0 196.0L267.2 195.0L267.5 194.0L267.7 193.0L268.0 192.0L268.2 191.0L268.5 190.0L268.7 189.0L269.0 188.0L269.2 187.0L269.5 186.0L269.8 185.0L270.0 184.0L270.3 183.0L270.6 182.0L270.8 181.0L271.1 180.0L271.4 179.0L271.7 178.0L271.9 177.0L272.2 176.0L272.5 175.0L272.8 174.0L273.1 173.0L273.4 172.0L273.7 171.0L274.0 170.0L274.3 169.0L274.6 168.0L274.9 167.0L275.2 166.0L275.6 165.0L275.9 164.0L276.2 163.0L276.5 162.0L276.9 161.0L277.2 160.0L277.6 159.0L277.9 158.0L278.3 157.0L278.6 156.0L279.0 155.0L279.4 154.0L279.7 153.0L280.1 152.0L280.5 151.0L280.9 150.0L281.3 149.0L281.7 148.0L282.1 147.0L282.5 146.0L282.9 145.0L283.3 144.0L283.8 143.0L284.2 142.0L284.6 141.0L285.1 140.0L285.5 139.0L286.0 138.0L286.5 137.0L286.9 136.0L287.4 135.0L287.9 134.0L288.4 133.0L288.9 132.0L289.4 131.0L289.9 130.0L290.4 129.0L290.9 128.0L291.4 127.0L292.0 126.0L292.5 125.0L293.1 124.0L293.6 123.0L294.2 122.0L294.7 121.0L295.3 120.0L295.9 119.0L296.4 118.0L297.0 117.0L297.6 116.0L298.2 115.0L298.8 114.0L299.4 113.0L300.0 112.0L300.6 111.0L301.2 110.0L301.8 109.0L302.4 108.0L303.0 107.0L303.6 106.0L304.2 105.0L304.8 104.0L305.4 103.0L306.0 102.0L306.7 101.0L307.3 100.0L307.9 99.0L308.5 98.0L309.1 97.0L309.7 96.0L310.4 95.0L311.0 94.0L311.6 93.0L312.2 92.0L312.8 91.0L313.4 90.0L314.1 89.0L314.7 88.0L315.3 87.0L315.9 86.0L316.5 85.0L317.1 84.0L317.7 83.0L318.3 82.0L318.9 81.0L319.5 80.0L320.1 79.0L320.7 78.0L321.3 77.0L321.8 76.0L322.4 75.0L323.0 74.0L323.6 73.0L324.1 72.0L324.7 71.0L325.2 70.0L325.8 69.0L326.3 68.0L326.9 67.0L327.4 66.0L327.9 65.0L328.5 64.0L329.0 63.0L329.5 62.0L330.0 61.0L330.5 60.0L331.0 59.0L331.5 58.0L332.0 57.0L332.5 56.0L333.0 55.0L333.5 54.0L334.0 53.0L334.4 52.0L334.9 51.0L335.3 50.0L335.8 49.0L336.2 48.0L336.7 47.0L337.1 46.0L337.5 45.0L337.9 44.0L338.3 43.0L338.7 42.0L339.1 41.0L339.5 40.0L339.9 39.0L340.3 38.0L340.7 37.0L341.0 36.0L341.4 35.0L341.7 34.0L342.1 33.0L342.4 32.0L342.7 31.0L343.0 30.0L343.3 29.0L343.6 28.0L343.9 27.0L344.2 26.0L344.6 25.0L345.0 24.1L345.5 23.6L346.1 23.0L346.9 22.4L347.9 21.8L348.9 21.2L349.7 20.6L350.6 20.0L351.6 19.2L352.7 18.5L353.5 18.0L354.2 17.9L354.9 18.0L355.8 18.4L356.7 19.1L357.6 19.8L358.4 20.5L359.2 21.3L360.0 22.0L360.6 22.7L361.1 23.6L361.5 24.5L361.9 25.5L362.4 26.5L362.8 27.5L363.2 28.5L363.7 29.5L364.1 30.5L364.6 31.5L365.1 32.5L365.6 33.5L366.1 34.5L366.6 35.5L367.1 36.5L367.6 37.5L368.1 38.5L368.7 39.5L369.2 40.5L369.8 41.5L370.4 42.5L371.0 43.5L371.6 44.5L372.2 45.5L372.8 46.5L373.4 47.5L374.0 48.5L374.7 49.5L375.3 50.5L376.0 51.5L376.6 52.5L377.3 53.5L378.0 54.5L378.7 55.5L379.4 56.5L380.1 57.5L380.8 58.5L381.5 59.5L382.3 60.5L383.0 61.5L383.8 62.6L384.5 63.5L385.1 64.3L385.6 65.0L386.2 65.8L386.9 66.6L387.5 67.4L388.1 68.2L388.7 69.0L389.4 69.8L390.0 70.6L390.7 71.4L391.3 72.2L392.0 73.0L392.7 73.8L393.3 74.6L394.0 75.4L394.7 76.2L395.3 77.0L396.0 77.8L396.7 78.6L397.4 79.4L398.1 80.2L398.8 81.0L399.5 81.8L400.2 82.6L400.9 83.4L401.6 84.2L402.3 85.0L403.1 85.8L403.8 86.6L404.5 87.4L405.2 88.2L406.0 89.0L406.7 89.8L407.4 90.6L408.2 91.4L408.9 92.2L409.7 93.0L410.4 93.8L411.1 94.6L411.9 95.4L412.6 96.2L413.4 97.0L414.1 97.8L414.9 98.6L415.6 99.4L416.4 100.2L417.1 101.0L417.9 101.8L418.6 102.6L419.4 103.4L420.2 104.2L420.9 105.0L421.7 105.8L422.4 106.6L423.2 107.4L423.9 108.2L424.7 109.0L425.4 109.8L426.2 110.6L426.9 111.4L427.6 112.2L428.4 113.0L429.1 113.8L429.9 114.6L430.6 115.4L431.3 116.2L432.1 117.0L432.8 117.8L433.5 118.6L434.3 119.4L435.0 120.2L435.7 121.0L436.4 121.8L437.1 122.6L437.8 123.4L438.5 124.2L439.2 125.0L439.9 125.8L440.6 126.6L441.3 127.4L442.0 128.2L442.7 129.0L443.4 129.8L444.1 130.6L444.7 131.4L445.4 132.2L446.0 133.0L446.7 133.8L447.4 134.6L448.0 135.4L448.6 136.2L449.3 137.0L449.9 137.8L450.5 138.6L451.1 139.4L451.7 140.1L452.3 140.9L453.0 141.9L453.8 143.0L454.5 144.0L455.3 145.0L456.0 146.0L456.7 147.0L457.3 148.0L458.0 149.0L458.7 150.0L459.4 151.0L460.0 152.0L460.6 153.0L461.3 154.0L461.9 155.0L462.5 156.0L463.1 157.0L463.7 158.0L464.3 159.0L464.9 160.0L465.5 161.0L466.1 162.0L466.6 163.0L467.2 164.0L467.7 165.0L468.3 166.0L468.8 167.0L469.3 168.0L469.8 169.0L470.3 170.0L470.8 171.0L471.3 172.0L471.8 173.0L472.3 174.0L472.8 175.0L473.2 176.0L473.7 177.0L474.1 178.0L474.6 179.0L475.0 180.0L475.5 181.0L475.9 182.0L476.3 183.0L476.7 184.0L477.1 185.0L477.5 186.0L477.9 187.0L478.3 188.0L478.7 189.0L479.1 190.0L479.5 191.0L479.8 192.0L480.2 193.0L480.6 194.0L480.9 195.0L481.3 196.0L481.6 197.0L482.0 198.0L482.3 199.0L482.6 200.0L482.9 201.0L483.3 202.0L483.6 203.0L483.9 204.0L484.2 205.0L484.5 206.0L484.8 207.0L485.1 208.0L485.4 209.0L485.7 210.0L486.0 211.0L486.2 212.0L486.5 213.0L486.8 214.0L487.1 215.0L487.3 216.0L487.6 217.0L487.8 218.0L488.1 219.0L488.4 220.0L488.6 221.0L488.9 222.0L489.1 223.0L489.3 224.0L489.6 225.0L489.8 226.0L490.1 227.0L490.3 228.0L490.5 229.0L490.7 230.0L491.0 231.0L491.2 232.0L491.4 233.0L491.6 234.0L491.9 235.0L492.1 236.0L492.3 237.0L492.5 238.0L492.7 239.0L492.9 240.0L493.1 241.0L493.3 242.0L493.5 243.0L493.8 244.0L494.0 245.0L494.2 246.0L494.4 247.0L494.6 248.0L494.8 249.0L495.0 250.0L495.2 251.0L495.4 252.0L495.6 253.0L495.8 254.0L496.0 255.0L496.2 255.9L496.6 256.8L497.1 257.5L497.8 258.2L498.7 258.9L499.7 259.6L500.6 260.2L501.6 260.8L502.7 261.4L503.6 261.8L504.5 261.9L505.4 261.8L506.3 261.4L507.3 260.7L508.1 259.9L508.8 259.1L509.6 258.1L510.2 257.2L510.7 256.3L511.2 255.4L511.5 254.5L511.8 253.5L512.1 252.5L512.4 251.4L512.7 250.4L513.0 249.4L513.4 248.4L513.7 247.4L514.0 246.4L514.3 245.4L514.6 244.4L514.9 243.3L515.3 242.3L515.6 241.3L515.9 240.3L516.2 239.3L516.6 238.3L516.9 237.3L517.2 236.3L517.6 235.2L517.9 234.2L518.3 233.2L518.6 232.2L519.0 231.2L519.4 230.2L519.7 229.2L520.1 228.2L520.5 227.1L520.8 226.1L521.2 225.1L521.6 224.1L522.0 223.1L522.4 222.1L522.8 221.1L523.3 220.1L523.7 219.1L524.1 218.0L524.5 217.0L525.0 216.0L525.4 215.0L525.9 214.0L526.4 213.0L526.8 212.0L527.3 211.0L527.8 209.9L528.3 208.9L528.8 207.9L529.3 206.9L529.9 205.9L530.4 204.9L530.9 203.9L531.5 202.9L532.1 201.8L532.6 200.8L533.2 199.8L533.8 198.8L534.4 197.8L535.0 196.8L535.6 195.8L536.3 194.8L536.9 193.7L537.6 192.7L538.3 191.7L538.6 191.2" stroke="#db5017" stroke-width="2.90" stroke-dasharray="3 2.9"/>
<path d="M76.8 11.6L77.8 11.6L78.8 11.6L79.9 11.6L80.9 11.6L82.0 11.6L83.1 11.6L84.1 11.6L85.2 11.6L86.3 11.6L87.4 11.6L88.4 11.6L89.5 11.6L90.6 11.6L91.6 11.6L92.6 11.6L93.7 11.6L94.6 11.6L95.6 11.7L96.5 11.7L97.4 11.7L98.2 11.7L99.0 11.7L99.8 11.7L101.1 11.7L102.3 11.7L103.5 11.8L104.6 11.8L105.7 11.8L106.6 11.8L107.6 11.9L108.5 11.9L109.4 11.9L110.3 12.0L111.4 12.0L112.5 12.1L113.7 12.2L114.8 12.3L115.8 12.4L116.8 12.5L117.8 12.6L118.8 12.7L119.9 12.8L121.0 12.9L122.1 13.1L123.2 13.2L124.2 13.4L125.2 13.5L126.2 13.7L127.2 14.0L128.2 14.3L129.1 14.6L130.0 14.9L130.9 15.3L131.8 15.8L132.6 16.4L133.4 17.0L134.2 17.6L134.9 18.3L135.5 19.1L136.1 19.9L136.7 20.8L137.2 21.8L137.6 22.8L138.0 23.7L138.4 24.6L138.7 25.5L139.0 26.4L139.3 27.4L139.6 28.3L139.9 29.4L140.3 30.4L140.6 31.5L140.9 32.6L141.2 33.6L141.5 34.5L141.8 35.6L142.0 36.5L142.2 37.5L142.5 38.5L142.7 39.5L142.8 40.4L143.0 41.4L143.2 42.5L143.4 43.5L143.6 44.5L143.9 45.5L144.1 46.5L144.4 47.5L144.7 48.5L145.0 49.5L145.3 50.5L145.6 51.5L145.8 52.4L146.1 53.4L146.3 54.3L146.5 55.4L146.7 56.5L146.8 57.5L146.9 58.3L147.0 59.2L147.1 60.2L147.2 61.2L147.3 62.2L147.3 63.3L147.4 64.3L147.5 65.4L147.5 66.5L147.6 67.5L147.6 68.5L147.7 69.5L147.7 70.5L147.8 71.4L147.8 72.4L147.9 73.4L147.9 74.4L148.0 75.4L148.0 76.4L148.1 77.4L148.1 78.4L148.2 79.5L148.2 80.5L148.2 81.4L148.3 82.4L148.3 83.4L148.3 84.4L148.4 85.4L148.4 86.4L148.4 87.5L148.4 88.5L148.4 89.5L148.5 90.5L148.5 91.6L148.5 92.5L148.6 93.5L148.6 94.5L148.6 95.5L148.7 96.5L148.7 97.6L148.7 98.7L148.8 99.7L148.8 100.8L148.8 101.8L148.9 102.9L148.9 103.9L149.0 104.8L149.0 105.7L149.1 106.6L149.2 107.5L149.3 108.5L149.4 109.6L149.5 110.8L149.7 111.9L149.8 112.9L150.0 113.8L150.1 114.6L150.3 115.4L150.6 116.6L151.0 117.6L151.3 118.5L151.5 119.0L152.5 118.5L153.4 117.8L154.0 117.1L154.3 116.3L154.6 115.4L154.9 114.3L155.2 113.1L155.5 111.9L155.6 111.1L155.7 110.2L155.8 109.3L155.9 108.4L156.0 107.3L156.0 106.2L156.1 105.1L156.2 104.0L156.2 102.9L156.3 101.9L156.4 100.9L156.4 100.0L156.5 98.9L156.6 97.9L156.7 96.9L156.8 95.9L156.9 94.9L157.0 93.9L157.1 92.8L157.1 91.7L157.2 90.7L157.3 89.8L157.3 88.8L157.4 87.8L157.5 86.8L157.5 85.7L157.6 84.7L157.6 83.6L157.7 82.5L157.7 81.4L157.8 80.4L157.8 79.4L157.9 78.5L157.9 77.5L158.0 76.4L158.0 75.3L158.1 74.3L158.1 73.3L158.1 72.3L158.2 71.3L158.2 70.3L158.3 69.3L158.3 68.2L158.3 67.2L158.4 66.2L158.4 65.1L158.5 64.1L158.5 63.0L158.6 61.9L158.6 60.8L158.7 59.8L158.7 58.8L158.8 57.8L158.8 56.8L158.9 55.7L158.9 54.6L159.0 53.6L159.0 52.5L159.1 51.5L159.2 50.5L159.2 49.5L159.3 48.5L159.3 47.5L159.4 46.5L159.5 45.4L159.5 44.4L159.6 43.4L159.6 42.4L159.7 41.5L159.8 40.5L159.8 39.5L159.9 38.5L160.0 37.4L160.1 36.4L160.2 35.4L160.3 34.5L160.4 33.5L160.5 32.5L160.7 31.4L160.9 30.4L161.1 29.3L161.4 28.3L161.6 27.3L161.9 26.3L162.2 25.3L162.5 24.3L162.9 23.3L163.3 22.4L163.8 21.5L164.3 20.6L164.9 19.8L165.5 19.1L166.2 18.4L167.0 17.7L167.7 17.1L168.6 16.6L169.5 16.1L170.4 15.6L171.3 15.2L172.3 14.9L173.3 14.5L174.4 14.3L175.4 14.0L176.5 13.8L177.5 13.7L178.6 13.5L179.6 13.4L180.6 13.3L181.7 13.2L182.7 13.1L183.7 13.0L184.7 13.0L185.7 12.9L186.8 12.9L188.0 12.8L189.0 12.8L189.7 12.8L190.5 12.7L191.2 12.7L192.0 12.7L192.9 12.7L193.8 12.7L194.8 12.7L196.0 12.6L197.4 12.6L199.0 12.6L200.5 12.6L201.0 12.6L201.5 12.6L202.0 12.6L202.5 12.6L203.1 12.6L203.7 12.6L204.4 12.6L205.1 12.6L205.9 12.6L206.7 12.6L207.6 12.5L208.4 12.5L209.3 12.5L210.2 12.5L211.1 12.5L212.1 12.5L213.0 12.5L214.0 12.5L215.0 12.5L216.0 12.5L217.0 12.5L218.0 12.5L219.1 12.5L220.1 12.5L221.2 12.5L222.3 12.5L223.4 12.5L224.5 12.5L225.6 12.5L226.7 12.5L227.9 12.5L229.0 12.5L230.2 12.5L231.3 12.5L232.5 12.5L233.7 12.5L234.8 12.5L236.0 12.4L237.2 12.4L238.4 12.4L239.6 12.4L240.8 12.4L241.9 12.4L243.1 12.4L244.3 12.4L245.5 12.4L246.7 12.4L247.9 12.4L249.1 12.4L250.2 12.4L251.4 12.4L252.6 12.4L253.7 12.4L254.9 12.4L256.0 12.4L257.1 12.4L258.3 12.4L259.4 12.4L260.5 12.4L261.6 12.4L262.7 12.4L263.7 12.4L264.8 12.4L265.9 12.4L266.9 12.4L267.9 12.4L268.9 12.4L269.9 12.5L270.8 12.5L271.8 12.5L272.7 12.5L273.6 12.5L274.5 12.5L275.4 12.5L276.2 12.5L277.0 12.5L277.7 12.5L278.3 12.5L279.0 12.5L279.7 12.5L281.0 12.5L282.4 12.5L283.7 12.5L284.9 12.5L286.1 12.5L287.2 12.5L288.3 12.5L289.4 12.5L290.4 12.5L291.5 12.5L292.5 12.5L293.4 12.6L294.4 12.6L295.3 12.6L296.3 12.6L297.2 12.6L298.1 12.6L299.0 12.7L299.8 12.7L300.7 12.7L301.5 12.7L302.3 12.8L303.1 12.8L303.9 12.9L304.9 12.9L306.1 13.0L307.3 13.1L308.4 13.2L309.5 13.3L310.5 13.4L311.5 13.6L312.5 13.7L313.4 13.8L314.3 13.9L315.2 14.1L316.1 14.2L317.0 14.4L318.0 14.6L319.1 14.9L320.2 15.1L321.3 15.4L322.4 15.7L323.4 16.0L324.4 16.3L325.3 16.6L326.2 16.9L327.0 17.2L328.0 17.5L329.0 17.9L330.0 18.3L330.9 18.7L331.7 19.2L332.5 19.7L333.3 20.2L334.0 20.9L334.8 21.6L335.5 22.3L336.1 23.1L336.7 23.9L337.3 24.8L337.8 25.7L338.3 26.7L338.8 27.7L339.2 28.7L339.6 29.7L340.0 30.8L340.4 31.8L340.7 32.9L341.0 34.0L341.3 35.0L341.6 36.0L341.9 36.9L342.1 37.9L342.3 38.9L342.6 39.9L342.8 40.8L343.0 41.9L343.2 42.9L343.4 44.0L343.6 45.0L343.9 46.0L344.1 47.0L344.4 48.0L344.7 49.1L344.9 50.1L345.2 51.1L345.4 52.1L345.6 53.1L345.8 54.1L346.0 55.1L346.1 56.1L346.3 57.0L346.5 58.0L346.7 59.0L346.8 59.9L347.0 60.9L347.2 62.0L347.4 63.2L347.5 64.0L347.6 64.9L347.8 65.8L347.9 66.7L348.0 67.7L348.1 68.8L348.3 69.8L348.4 71.0L348.6 72.1L348.7 73.3L348.8 74.5L349.0 75.5L349.1 76.3L349.2 77.2L349.3 78.1L349.5 79.1L349.6 80.1L349.8 81.1L349.9 82.1L350.0 83.1L350.2 84.1L350.3 85.2L350.5 86.2L350.6 87.2L350.7 88.3L350.9 89.3L351.0 90.3L351.1 91.3L351.2 92.3L351.3 93.3L351.4 94.3L351.5 95.4L351.5 96.4L351.6 97.5L351.7 98.5L351.8 99.6L351.8 100.6L351.9 101.6L352.0 102.7L352.0 103.7L352.1 104.7L352.1 105.7L352.2 106.7L352.3 107.7L352.3 108.7L352.4 109.6L352.5 110.7L352.6 111.8L352.6 112.9L352.7 114.1L352.8 115.2L352.9 116.2L353.0 117.3L353.0 118.4L353.1 119.4L353.2 120.4L353.3 121.4L353.4 122.2L353.5 123.1L353.6 123.9L353.8 125.1L354.0 126.2L354.1 127.2L354.3 128.1L354.5 129.0L354.7 129.9L354.9 130.9L355.9 130.5L356.8 129.9L357.4 129.3L358.0 128.2L358.5 126.8L358.7 126.3L358.9 125.7L359.1 125.1L359.2 124.3L359.4 123.5L359.6 122.6L359.7 121.5L359.9 120.5L360.0 119.4L360.2 118.2L360.3 117.1L360.4 115.9L360.5 114.8L360.7 113.6L360.8 112.4L360.9 111.2L361.1 110.1L361.2 109.1L361.3 108.2L361.4 107.3L361.5 106.4L361.6 105.4L361.7 104.4L361.8 103.4L361.9 102.4L362.0 101.3L362.1 100.3L362.2 99.3L362.3 98.2L362.4 97.1L362.5 96.1L362.6 95.0L362.7 94.0L362.8 92.9L362.9 91.9L363.0 90.9L363.1 89.8L363.2 88.8L363.3 87.8L363.4 86.9L363.5 85.9L363.6 85.0L363.7 83.9L363.8 82.8L363.9 81.7L364.0 80.6L364.1 79.5L364.2 78.4L364.3 77.3L364.4 76.2L364.5 75.1L364.6 74.1L364.7 73.0L364.8 72.0L364.9 71.0L365.0 70.0L365.1 69.0L365.2 68.1L365.3 67.2L365.4 66.4L365.5 65.5L365.6 64.5L365.7 63.3L365.8 62.2L365.9 61.2L366.0 60.2L366.1 59.3L366.3 58.4L366.4 57.4L366.4 56.5L366.5 55.5L366.6 54.5L366.7 53.5L366.8 52.5L366.8 51.5L366.9 50.5L366.9 49.5L367.0 48.5L367.1 47.5L367.1 46.5L367.2 45.5L367.2 44.5L367.3 43.5L367.3 42.4L367.4 41.3L367.5 40.2L367.5 39.2L367.6 38.2L367.7 37.2L367.8 36.2L367.9 35.3L368.1 34.1L368.3 33.0L368.5 31.9L368.8 30.8L369.0 29.8L369.3 28.9L369.6 28.0L369.9 27.0L370.3 26.0L370.7 25.2L371.1 24.3L371.6 23.4L372.1 22.4L372.7 21.6L373.4 20.7L374.1 20.1L374.8 19.5L375.7 18.9L376.6 18.4L377.6 18.0L378.5 17.5L379.5 17.2L380.4 16.8L381.3 16.5L382.4 16.2L383.5 15.9L384.6 15.6L385.4 15.4L386.3 15.2L387.2 15.0L388.1 14.8L389.1 14.6L390.1 14.4L391.2 14.2L392.3 14.0L393.5 13.9L394.6 13.7L395.5 13.6L396.4 13.5L397.2 13.5L398.1 13.4L399.0 13.3L399.9 13.3L400.8 13.3L401.8 13.2L402.8 13.2L403.8 13.2L404.9 13.1L406.0 13.1L407.2 13.1L408.5 13.0L409.9 13.0L411.2 13.0L411.9 13.0L412.6 13.0L413.3 13.0L414.0 12.9L414.7 12.9L415.5 12.9L416.4 12.9L417.2 12.9L418.1 12.9L419.0 12.9L419.9 12.9L420.8 12.9L421.7 12.9L422.6 12.9L423.6 12.9L424.5 12.9L425.5 12.9L426.5 12.9L427.4 12.9L428.4 12.9L429.4 12.9L430.5 12.9L431.5 12.9L432.5 12.9L433.6 12.9L434.6 12.9L435.7 12.9L436.7 12.9L437.8 12.9L438.9 12.9L439.9 12.9L441.0 12.9L442.1 12.9L443.2 12.9L444.3 12.9L445.4 12.9L446.5 12.9L447.6 12.9L448.8 12.9L449.9 12.9L451.0 12.9L452.1 12.9L453.2 12.9L454.4 12.9L455.5 12.9L456.7 12.9L457.9 12.9L459.0 12.9L460.2 12.9L461.0 12.9L461.9 12.9L462.7 12.9L463.6 12.9L464.5 12.9L465.4 12.9L466.3 12.9L467.2 12.9L468.1 12.9L469.0 12.9L470.0 12.9L470.9 12.9L471.9 12.9L472.8 12.9L473.8 12.9L474.7 12.9L475.7 12.9L476.7 12.9L477.6 12.9L478.6 12.9L479.6 12.9L480.6 12.9L481.6 12.9L482.6 12.9L483.6 12.9L484.5 12.9L485.5 12.9L486.6 12.9L487.6 12.9L488.6 12.9L489.6 12.9L490.6 12.9L491.6 12.9L492.6 12.9L493.6 12.9L494.7 12.9L495.7 12.9L496.7 12.9L497.7 12.9L498.8 12.9L499.8 12.9L500.8 12.9L501.9 12.9L502.9 12.9L504.0 12.9L505.0 12.9L506.0 12.9L507.1 12.9L508.1 12.9L509.1 12.9L510.2 12.9L511.2 12.9L512.3 12.9L513.3 12.9L514.3 12.9L515.4 12.9L516.4 12.9L517.5 12.9L518.5 12.9L519.5 12.9L520.6 12.9L521.6 12.9L522.7 12.9L523.7 12.9L524.7 12.9L525.8 12.9L526.8 12.9L527.8 12.9L528.8 12.9L529.9 12.9L530.9 12.9L531.9 12.9L532.9 12.9L534.0 12.9L535.0 12.9L536.0 12.9L537.0 12.9L538.0 12.9L539.0 12.9L540.0 12.9" stroke="#db5017" stroke-width="2.90" stroke-dasharray="3 2.9"/>
</g>
<text transform="translate(64.20 20.80) scale(1 1.030)" font-size="24.5" text-anchor="end">0</text>
<text transform="translate(64.20 77.85) scale(1 1.030)" font-size="24.5" text-anchor="end">-10</text>
<text transform="translate(64.20 134.90) scale(1 1.030)" font-size="24.5" text-anchor="end">-20</text>
<text transform="translate(64.20 191.95) scale(1 1.030)" font-size="24.5" text-anchor="end">-30</text>
<text transform="translate(64.20 249.00) scale(1 1.030)" font-size="24.5" text-anchor="end">-40</text>
<text transform="translate(64.20 306.05) scale(1 1.030)" font-size="24.5" text-anchor="end">-50</text>
<text transform="translate(64.20 363.10) scale(1 1.030)" font-size="24.5" text-anchor="end">-60</text>
<text transform="translate(71.00 383.10) scale(1 1.030)" font-size="24.5" text-anchor="middle">0</text>
<text transform="translate(188.25 383.10) scale(1 1.030)" font-size="24.5" text-anchor="middle">2</text>
<text transform="translate(305.50 383.10) scale(1 1.030)" font-size="24.5" text-anchor="middle">4</text>
<text transform="translate(422.75 383.10) scale(1 1.030)" font-size="24.5" text-anchor="middle">6</text>
<text transform="translate(540.00 383.10) scale(1 1.030)" font-size="24.5" text-anchor="middle">8</text>
<text x="305.00" y="412.50" font-size="25.8" text-anchor="middle">Frequency [GHz]</text>
<text transform="translate(25.20 183.50) rotate(-90) scale(1 1.000)" font-size="25.8" text-anchor="middle">S-Parameters [dB]</text>
<path d="M92.2 309.9H140.6" stroke="#000" stroke-width="2.6"/>
<path d="M92.4 333.4H141" stroke="#db5017" stroke-width="2.8" stroke-dasharray="3 2.9"/>
<text x="147.00" y="316.30" font-size="21.3">EM Simulation</text>
<text x="147.00" y="340.60" font-size="21.3">Measured</text>
<g fill="none" stroke="#000" stroke-width="2.8">
<ellipse cx="412.3" cy="90.4" rx="6.4" ry="10.1"/>
<path d="M411.9 100.5V123"/>
<ellipse cx="476.1" cy="13.5" rx="6.1" ry="8.0"/>
<path d="M475.5 21.5V44"/>
</g>
<path d="M407.1 121.8L416.7 121.8L411.9 134.6Z M470.7 43.6L480.3 43.6L475.5 56Z" fill="#000"/>
<text transform="translate(402.00 152.40) scale(1 1.120)" font-size="21.5">S</text>
<text transform="translate(413.90 161.90) scale(1 1.080)" font-size="15.5">21</text>
<text transform="translate(463.80 75.30) scale(1 1.120)" font-size="21.5">S</text>
<text transform="translate(477.40 85.20) scale(1 1.080)" font-size="15.5">11</text>
</svg>
</body></html>
